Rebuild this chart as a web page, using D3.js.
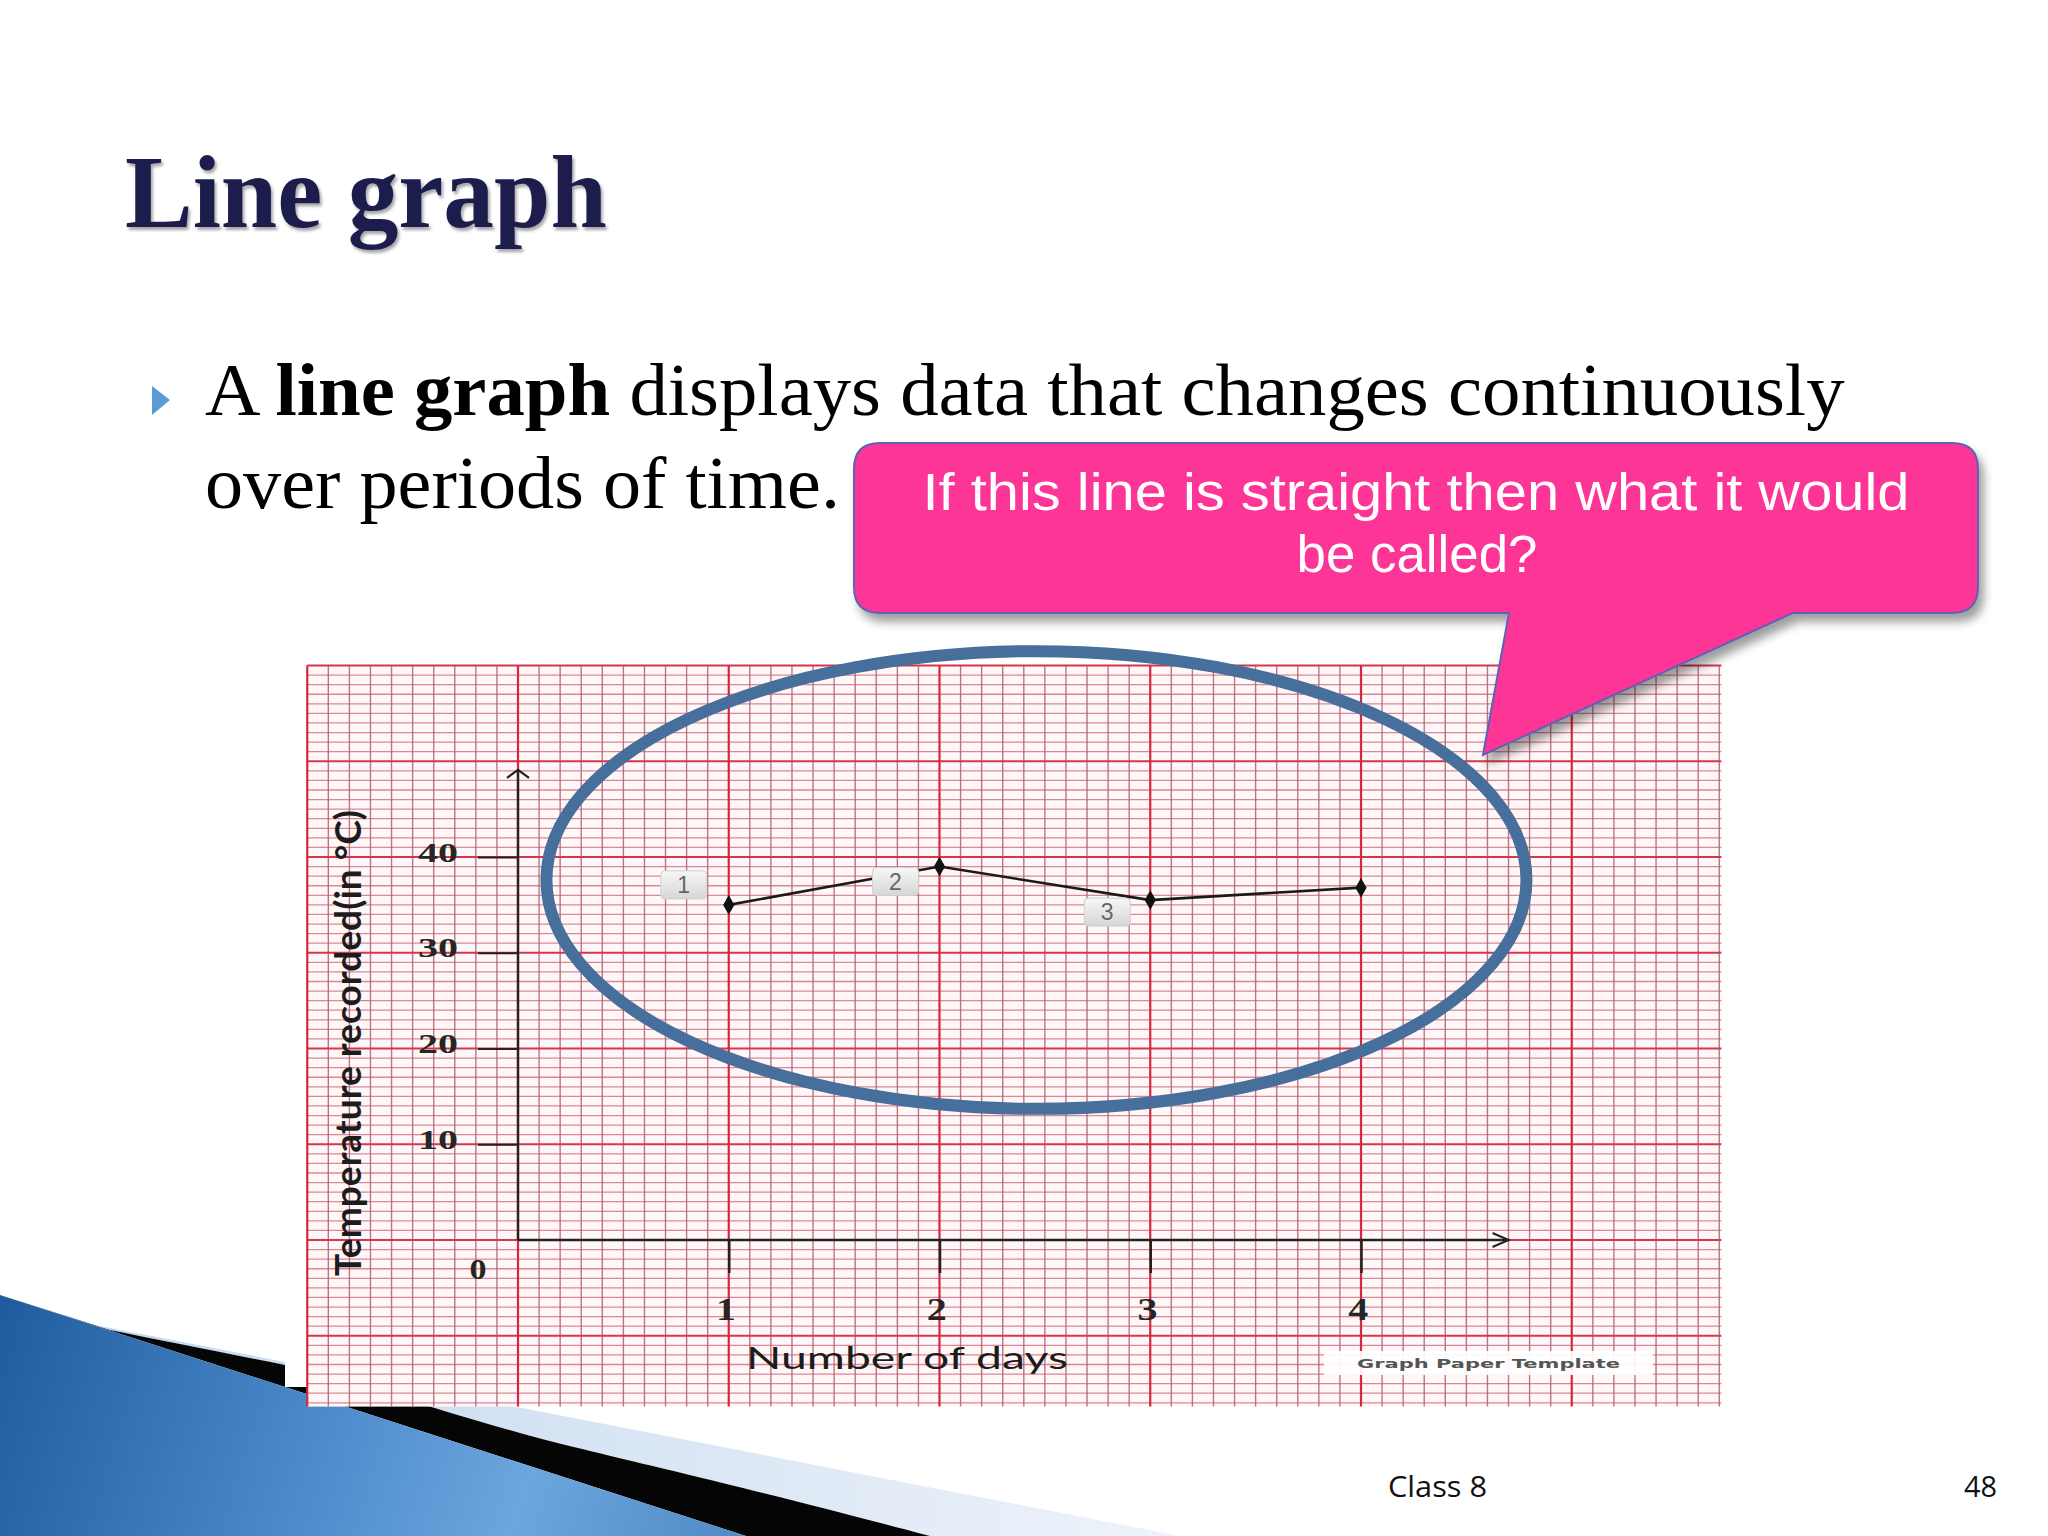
<!DOCTYPE html>
<html>
<head>
<meta charset="utf-8">
<script src="https://cdn.jsdelivr.net/npm/d3@7"></script>
<title>Line graph</title>
<style>
  body { margin: 0; background: #fff; }
  svg { display: block; }
</style>
</head>
<body>
<script>
// ---- data ----
var days = [1, 2, 3, 4];
var temps = [35, 39, 35.5, 36.8];
var pointLabels = ["1", "2", "3"];
var yTickValues = [10, 20, 30, 40];
var xTickValues = [1, 2, 3, 4];

var width = 2048, height = 1536;

var svg = d3.select("body").append("svg")
    .attr("width", width)
    .attr("height", height);

var defs = svg.append("defs");

// shadows
defs.append("filter").attr("id", "calloutShadow")
    .attr("x", "-10%").attr("y", "-10%").attr("width", "130%").attr("height", "150%")
  .append("feDropShadow")
    .attr("dx", 5).attr("dy", 8).attr("stdDeviation", 5)
    .attr("flood-color", "#000").attr("flood-opacity", 0.38);

defs.append("filter").attr("id", "titleShadow")
  .append("feDropShadow")
    .attr("dx", 2).attr("dy", 3).attr("stdDeviation", 1.6)
    .attr("flood-color", "#000").attr("flood-opacity", 0.35);

var blueGrad = defs.append("linearGradient").attr("id", "blueGrad")
    .attr("gradientUnits", "userSpaceOnUse")
    .attr("x1", 0).attr("y1", 1300).attr("x2", 760).attr("y2", 1536);
blueGrad.append("stop").attr("offset", 0).attr("stop-color", "#1f5c9e");
blueGrad.append("stop").attr("offset", 0.45).attr("stop-color", "#4f8ccc");
blueGrad.append("stop").attr("offset", 0.7).attr("stop-color", "#6ca6de");
blueGrad.append("stop").attr("offset", 1).attr("stop-color", "#4e89c6");

var paleGrad = defs.append("linearGradient").attr("id", "paleGrad")
    .attr("gradientUnits", "userSpaceOnUse")
    .attr("x1", 100).attr("y1", 0).attr("x2", 1180).attr("y2", 0);
paleGrad.append("stop").attr("offset", 0).attr("stop-color", "#c3d8ee");
paleGrad.append("stop").attr("offset", 1).attr("stop-color", "#eef3fa");

var boxGrad = defs.append("linearGradient").attr("id", "boxGrad")
    .attr("x1", 0).attr("y1", 0).attr("x2", 0).attr("y2", 1);
boxGrad.append("stop").attr("offset", 0).attr("stop-color", "#f7f7f7");
boxGrad.append("stop").attr("offset", 1).attr("stop-color", "#d6d6d6");

// ---- decorative swoosh (bottom left) ----
var deco = svg.append("g");
deco.append("path")
    .attr("d", "M100,1326 L1180,1536 L930,1536 C700,1475 600,1455 520,1433 C420,1405 350,1380 285,1365 C220,1352 160,1340 110,1330 Z")
    .attr("fill", "url(#paleGrad)");
deco.append("path")
    .attr("d", "M110,1330 C160,1340 220,1352 285,1365 C350,1380 420,1405 520,1433 C600,1455 700,1475 930,1536 L746,1536 L0,1295 Z")
    .attr("fill", "#050505");
deco.append("path")
    .attr("d", "M0,1295 L746,1536 L0,1536 Z")
    .attr("fill", "url(#blueGrad)");

// ---- title and bullet text ----
function fitWidth(sel, target, anchorX) {
  sel.each(function() {
    var w = this.getComputedTextLength();
    var k = target / w;
    d3.select(this).attr("transform",
      "translate(" + anchorX + ",0) scale(" + k + ",1) translate(" + (-anchorX) + ",0)");
  });
}

svg.append("text")
    .attr("x", 125).attr("y", 227)
    .attr("font-family", "Liberation Serif, Times New Roman, serif")
    .attr("font-weight", "bold")
    .attr("font-size", 104)
    .attr("fill", "#1d1f4e")
    .attr("filter", "url(#titleShadow)")
    .text("Line graph")
    .call(fitWidth, 482, 125);

svg.append("path")
    .attr("d", "M152,386 L170,400 L152,415 Z")
    .attr("fill", "#5b9bd5");

var line1 = svg.append("text")
    .attr("x", 205).attr("y", 415)
    .attr("font-family", "Liberation Serif, Times New Roman, serif")
    .attr("font-size", 75)
    .attr("fill", "#000");
line1.append("tspan").text("A ");
line1.append("tspan").attr("font-weight", "bold").text("line graph");
line1.append("tspan").text(" displays data that changes continuously");
line1.call(fitWidth, 1640, 205);

svg.append("text")
    .attr("x", 205).attr("y", 508)
    .attr("font-family", "Liberation Serif, Times New Roman, serif")
    .attr("font-size", 75)
    .attr("fill", "#000")
    .text("over periods of time.")
    .call(fitWidth, 635, 205);

// ---- graph picture ----
var xScale = d3.scaleLinear().domain([0, 4]).range([518, 1361]);
var yScale = d3.scaleLinear().domain([0, 40]).range([1240, 857]);

var paperX = [-1, 5.71];
var paperY = [-17.4, 60];

var graph = svg.append("g");

// white picture background
graph.append("rect")
    .attr("x", 285).attr("y", 555)
    .attr("width", 1455).attr("height", 832)
    .attr("fill", "#fff");

graph.append("rect")
    .attr("x", xScale(paperX[0])).attr("y", yScale(paperY[1]))
    .attr("width", xScale(paperX[1]) - xScale(paperX[0]))
    .attr("height", yScale(paperY[0]) - yScale(paperY[1]))
    .attr("fill", "#fff6f7");

var vMinor = d3.range(-10, 58).map(function(i) { return i / 10; });
var hMinor = d3.range(-17, 61);

graph.append("g").selectAll("line")
    .data(hMinor.filter(function(v) { return v % 10 !== 0; }))
    .enter().append("line")
    .attr("x1", xScale(paperX[0])).attr("x2", xScale(paperX[1]))
    .attr("y1", function(d) { return yScale(d); })
    .attr("y2", function(d) { return yScale(d); })
    .attr("stroke", "#d68a97").attr("stroke-width", 1.3);

graph.append("g").selectAll("line")
    .data(vMinor.filter(function(v) { return Math.abs(v - Math.round(v)) > 1e-6; }))
    .enter().append("line")
    .attr("x1", function(d) { return xScale(d); })
    .attr("x2", function(d) { return xScale(d); })
    .attr("y1", yScale(paperY[1])).attr("y2", yScale(paperY[0]))
    .attr("stroke", "#b0606e").attr("stroke-width", 1.4).attr("opacity", 0.85);

graph.append("g").selectAll("line")
    .data(hMinor.filter(function(v) { return v % 10 === 0; }))
    .enter().append("line")
    .attr("x1", xScale(paperX[0])).attr("x2", xScale(paperX[1]))
    .attr("y1", function(d) { return yScale(d); })
    .attr("y2", function(d) { return yScale(d); })
    .attr("stroke", "#d3374d").attr("stroke-width", 2);

graph.append("g").selectAll("line")
    .data(d3.range(-1, 6))
    .enter().append("line")
    .attr("x1", function(d) { return xScale(d); })
    .attr("x2", function(d) { return xScale(d); })
    .attr("y1", yScale(paperY[1])).attr("y2", yScale(paperY[0]))
    .attr("stroke", "#d3283f").attr("stroke-width", 2.2);

// axes
var yAxis = d3.axisLeft(yScale)
    .tickValues(yTickValues)
    .tickFormat(d3.format("d"))
    .tickSize(40)
    .tickPadding(20);

var yAxisG = graph.append("g")
    .attr("transform", "translate(" + xScale(0) + ",0)")
    .call(yAxis);
yAxisG.select(".domain").remove();
yAxisG.selectAll(".tick line").attr("stroke", "#222").attr("stroke-width", 2);
yAxisG.selectAll(".tick text")
    .attr("dy", "0.15em")
    .attr("font-family", "Liberation Serif, Times New Roman, serif")
    .attr("font-weight", "bold")
    .attr("font-size", 27)
    .attr("fill", "#262626")
    .attr("textLength", 40)
    .attr("lengthAdjust", "spacingAndGlyphs");

var xAxis = d3.axisBottom(xScale)
    .tickValues(xTickValues)
    .tickFormat(d3.format("d"))
    .tickSize(33)
    .tickPadding(24);

var xAxisG = graph.append("g")
    .attr("transform", "translate(0," + yScale(0) + ")")
    .call(xAxis);
xAxisG.select(".domain").remove();
xAxisG.selectAll(".tick line").attr("stroke", "#222").attr("stroke-width", 2.5);
xAxisG.selectAll(".tick text")
    .attr("dx", "-0.1em")
    .attr("font-family", "Liberation Serif, Times New Roman, serif")
    .attr("font-weight", "bold")
    .attr("font-size", 32)
    .attr("fill", "#262626")
    .attr("textLength", 20)
    .attr("lengthAdjust", "spacingAndGlyphs");

// "0" sits below the origin
graph.append("text")
    .attr("x", xScale(0) - 40).attr("y", yScale(0) + 39)
    .attr("text-anchor", "middle")
    .attr("font-family", "Liberation Serif, Times New Roman, serif")
    .attr("font-weight", "bold")
    .attr("font-size", 29)
    .attr("fill", "#262626")
    .attr("textLength", 17)
    .attr("lengthAdjust", "spacingAndGlyphs")
    .text("0");

// axis lines with arrows
var yTop = yScale(49.1), xEnd = xScale(4.7);
graph.append("line")
    .attr("x1", xScale(0)).attr("x2", xScale(0))
    .attr("y1", yScale(0)).attr("y2", yTop)
    .attr("stroke", "#222").attr("stroke-width", 2.4);
graph.append("path")
    .attr("d", "M" + (xScale(0) - 11) + "," + (yTop + 8) + " L" + xScale(0) + "," + yTop + " L" + (xScale(0) + 11) + "," + (yTop + 8))
    .attr("fill", "none").attr("stroke", "#222").attr("stroke-width", 2.2);
graph.append("line")
    .attr("x1", xScale(0)).attr("x2", xEnd)
    .attr("y1", yScale(0)).attr("y2", yScale(0))
    .attr("stroke", "#222").attr("stroke-width", 2.4);
graph.append("path")
    .attr("d", "M" + (xEnd - 16) + "," + (yScale(0) - 7) + " L" + xEnd + "," + yScale(0) + " L" + (xEnd - 16) + "," + (yScale(0) + 7))
    .attr("fill", "none").attr("stroke", "#222").attr("stroke-width", 2.2);

// axis titles
graph.append("text")
    .attr("transform", "translate(361,1276) rotate(-90)")
    .attr("font-family", "Lato, Open Sans, sans-serif")
    .attr("font-weight", "bold")
    .attr("font-size", 37)
    .attr("fill", "#1c1c1c")
    .attr("textLength", 466)
    .attr("lengthAdjust", "spacingAndGlyphs")
    .text("Temperature recorded(in °C)");

graph.append("text")
    .attr("x", 746).attr("y", 1369)
    .attr("font-family", "Lato, Open Sans, sans-serif")
    .attr("font-size", 31)
    .attr("fill", "#1c1c1c")
    .attr("textLength", 322)
    .attr("lengthAdjust", "spacingAndGlyphs")
    .text("Number of days");

// watermark box
graph.append("rect")
    .attr("x", 1324).attr("y", 1351)
    .attr("width", 329).attr("height", 24)
    .attr("fill", "#fff").attr("opacity", 0.92);
graph.append("text")
    .attr("x", 1357).attr("y", 1368)
    .attr("font-family", "DejaVu Sans, sans-serif")
    .attr("font-weight", "bold")
    .attr("font-size", 13)
    .attr("fill", "#555")
    .attr("textLength", 263)
    .attr("lengthAdjust", "spacingAndGlyphs")
    .text("Graph Paper Template");

// data line
var series = days.map(function(d, i) { return { day: d, temp: temps[i] }; });

var lineGen = d3.line()
    .x(function(d) { return xScale(d.day); })
    .y(function(d) { return yScale(d.temp); });

graph.append("path")
    .datum(series)
    .attr("d", lineGen)
    .attr("fill", "none")
    .attr("stroke", "#1a1a1a")
    .attr("stroke-width", 2.6);

graph.append("g").selectAll("path")
    .data(series)
    .enter().append("path")
    .attr("transform", function(d) { return "translate(" + xScale(d.day) + "," + yScale(d.temp) + ")"; })
    .attr("d", d3.symbol().type(d3.symbolDiamond).size(110))
    .attr("fill", "#111");

// grey point label boxes, shifted left of each point
var labelShift = [[-45, -20], [-44, 15], [-43, 12]];
var labelG = graph.append("g").selectAll("g")
    .data(pointLabels)
    .enter().append("g")
    .attr("transform", function(d, i) {
      return "translate(" + (xScale(series[i].day) + labelShift[i][0]) + "," + (yScale(series[i].temp) + labelShift[i][1]) + ")";
    });
labelG.append("rect")
    .attr("x", -23).attr("y", -14)
    .attr("width", 46).attr("height", 28)
    .attr("rx", 4)
    .attr("fill", "url(#boxGrad)")
    .attr("stroke", "#cfcfcf");
labelG.append("text")
    .attr("text-anchor", "middle")
    .attr("dy", "0.35em")
    .attr("font-family", "Liberation Sans, Arial, sans-serif")
    .attr("font-size", 23)
    .attr("fill", "#666")
    .text(function(d) { return d; });

// highlight ellipse
graph.append("ellipse")
    .attr("cx", xScale(2.46)).attr("cy", yScale(37.6))
    .attr("rx", xScale(2.325) - xScale(0))
    .attr("ry", yScale(0) - yScale(23.9))
    .attr("fill", "none")
    .attr("stroke", "#466f9b")
    .attr("stroke-width", 12);

// ---- callout ----
var callout = svg.append("g").attr("filter", "url(#calloutShadow)");
var cx0 = 854, cx1 = 1978, cy0 = 443, cy1 = 613, r = 26;
callout.append("path")
    .attr("d",
      "M" + (cx0 + r) + "," + cy0 +
      " L" + (cx1 - r) + "," + cy0 +
      " Q" + cx1 + "," + cy0 + " " + cx1 + "," + (cy0 + r) +
      " L" + cx1 + "," + (cy1 - r) +
      " Q" + cx1 + "," + cy1 + " " + (cx1 - r) + "," + cy1 +
      " L1793," + cy1 +
      " L1483,755" +
      " L1509," + cy1 +
      " L" + (cx0 + r) + "," + cy1 +
      " Q" + cx0 + "," + cy1 + " " + cx0 + "," + (cy1 - r) +
      " L" + cx0 + "," + (cy0 + r) +
      " Q" + cx0 + "," + cy0 + " " + (cx0 + r) + "," + cy0 + " Z")
    .attr("fill", "#fd3596")
    .attr("stroke", "#5d62b5")
    .attr("stroke-width", 2);

svg.append("text")
    .attr("x", 1416).attr("y", 510)
    .attr("text-anchor", "middle")
    .attr("font-family", "Liberation Sans, Arial, sans-serif")
    .attr("font-size", 51)
    .attr("fill", "#fff")
    .attr("textLength", 987)
    .attr("lengthAdjust", "spacingAndGlyphs")
    .text("If this line is straight then what it would");
svg.append("text")
    .attr("x", 1417).attr("y", 572)
    .attr("text-anchor", "middle")
    .attr("font-family", "Liberation Sans, Arial, sans-serif")
    .attr("font-size", 51)
    .attr("fill", "#fff")
    .attr("textLength", 241)
    .attr("lengthAdjust", "spacingAndGlyphs")
    .text("be called?");

// ---- footer ----
svg.append("text")
    .attr("x", 1388).attr("y", 1497)
    .attr("font-family", "Open Sans, sans-serif")
    .attr("font-size", 29)
    .attr("fill", "#111")
    .attr("textLength", 99)
    .attr("lengthAdjust", "spacingAndGlyphs")
    .text("Class 8");
svg.append("text")
    .attr("x", 1964).attr("y", 1497)
    .attr("font-family", "Open Sans, sans-serif")
    .attr("font-size", 29)
    .attr("fill", "#111")
    .attr("textLength", 33)
    .attr("lengthAdjust", "spacingAndGlyphs")
    .text("48");
</script>
</body>
</html>
